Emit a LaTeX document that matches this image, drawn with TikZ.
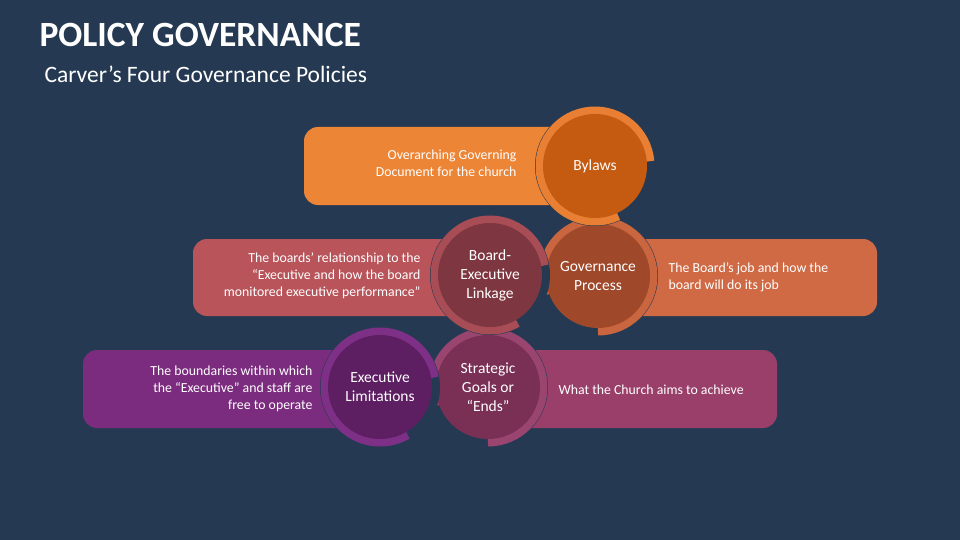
\documentclass[tikz,border=0pt]{standalone}
\usepackage{fontspec}
\setmainfont{Carlito}
\begin{document}
\begin{tikzpicture}[x=1pt,y=-1pt,
 txt/.style={text=white,font=\fontsize{13.8}{17}\selectfont,align=center},
 ban/.style={rounded corners=14pt}]
\definecolor{bg}{HTML}{253A52}
\fill[bg] (0,0) rectangle (960,540);
\useasboundingbox (0,0) rectangle (960,540);
\node[anchor=west,text=white,font=\bfseries\fontsize{35.5}{38}\selectfont] (title) at (36,35) {POLICY GOVERNANCE};
\node[anchor=west,text=white,font=\fontsize{23.5}{26}\selectfont] (sub) at (41,74) {Carver’s Four Governance Policies};
% banners
\fill[ban,fill={rgb,255:red,237;green,133;blue,55}] (304,127) rectangle (600,205);
\fill[ban,fill={rgb,255:red,184;green,84;blue,90}] (193,239) rectangle (500,316);
\fill[ban,fill={rgb,255:red,207;green,106;blue,69}] (590,239) rectangle (877,316);
\fill[ban,fill={rgb,255:red,123;green,44;blue,126}] (83,350) rectangle (390,428);
\fill[ban,fill={rgb,255:red,154;green,63;blue,106}] (480,350) rectangle (777,428);
% banner texts
\node[txt,align=right,anchor=east] (t1) at (520,163) {Overarching Governing\\Document for the church};
\node[txt,align=right,anchor=east] (t2) at (424,276) {The boards' relationship to the\\“Executive and how the board\\monitored executive performance”};
\node[txt,align=left,anchor=west] (t3) at (665,277) {The Board’s job and how the\\board will do its job};
\node[txt,align=right,anchor=east] (t4) at (316,389) {The boundaries within which\\the “Executive” and staff are\\free to operate};
\node[txt,align=left,anchor=west] (t5) at (555,390) {What the Church aims to achieve};
% circles
\newcommand\polcirc[7]{%
 \fill[bg] (#1,#2) circle (60);
 \draw[line width=8pt,color={rgb,255:#5}] ([shift={(#3:55.5)}]#1,#2) arc[start angle=#3,delta angle=-290,radius=55.5];
 \fill[color={rgb,255:#6}] (#1,#2) circle (52);
 \node[txt,font=\fontsize{15.5}{19}\selectfont] (#7) at (#1,#2) {#4};}
\polcirc{598}{276}{90}{Governance\\Process}{red,201;green,101;blue,63}{red,160;green,73;blue,42}{gp}
\polcirc{595}{166}{-5}{Bylaws}{red,233;green,127;blue,50}{red,197;green,90;blue,17}{by}
\polcirc{488}{387}{90}{Strategic\\Goals or\\“Ends”}{red,154;green,68;blue,112}{red,122;green,47;blue,85}{sg}
\polcirc{490}{275}{-10}{Board-\\Executive\\Linkage}{red,168;green,77;blue,85}{red,126;green,55;blue,64}{be}
\polcirc{380}{387}{-10}{Executive\\Limitations}{red,126;green,47;blue,134}{red,94;green,30;blue,98}{el}
\end{tikzpicture}
\end{document}
